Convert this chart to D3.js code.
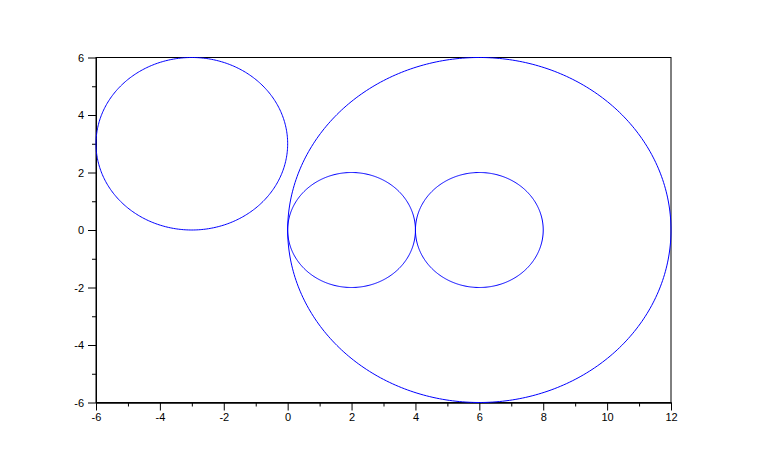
<!DOCTYPE html>
<html>
<head>
<meta charset="utf-8">
<script src="https://cdn.jsdelivr.net/npm/d3@7"></script>
<style>
  body { margin: 0; background: #fff; }
  text { font-family: "Liberation Sans", Arial, sans-serif; font-size: 11px; }
</style>
</head>
<body>
<div id="chart"></div>
<script>
// circles drawn on the plot: center x, center y, radius
var centerX = [-3, 6, 2, 6];
var centerY = [3, 0, 0, 0];
var radius = [3, 6, 2, 2];

var xTicks = [-6, -4, -2, 0, 2, 4, 6, 8, 10, 12];
var yTicks = [-6, -4, -2, 0, 2, 4, 6];
var xMinor = [-5, -3, -1, 1, 3, 5, 7, 9, 11];
var yMinor = [-5, -3, -1, 1, 3, 5];

var svgWidth = 767;
var svgHeight = 460;

var margin = { top: 57.5, right: 96, bottom: 57.5, left: 96 };
var width = 671 - margin.left;
var height = 402.5 - margin.top;

var svg = d3.select("#chart")
  .append("svg")
  .attr("width", svgWidth)
  .attr("height", svgHeight);

var chartGroup = svg.append("g")
  .attr("transform", `translate(${margin.left}, ${margin.top})`);

var xScale = d3.scaleLinear().domain([-6, 12]).range([0, width]);
var yScale = d3.scaleLinear().domain([-6, 6]).range([height, 0]);

// plain hyphen for negatives, like the original
var fmt = d => String(d);

// box
chartGroup.append("rect")
  .attr("x", 0)
  .attr("y", 0)
  .attr("width", width)
  .attr("height", height)
  .attr("fill", "none")
  .attr("stroke", "#000")
  .attr("stroke-width", 1);

// axes
var bottomAxis = d3.axisBottom(xScale).tickValues(xTicks).tickSize(8).tickSizeOuter(0)
  .tickFormat(fmt);
var leftAxis = d3.axisLeft(yScale).tickValues(yTicks).tickSize(8).tickSizeOuter(0)
  .tickFormat(fmt);

var xAxis = chartGroup.append("g")
  .attr("transform", `translate(0, ${height})`)
  .call(bottomAxis);
var yAxis = chartGroup.append("g").call(leftAxis);

chartGroup.append("g")
  .attr("transform", `translate(0, ${height})`)
  .call(d3.axisBottom(xScale).tickValues(xMinor).tickSize(4).tickSizeOuter(0).tickFormat(""));
chartGroup.append("g")
  .call(d3.axisLeft(yScale).tickValues(yMinor).tickSize(4).tickSizeOuter(0).tickFormat(""));

chartGroup.selectAll(".domain").attr("stroke", "#000");
chartGroup.selectAll(".tick line").attr("stroke", "#000");
chartGroup.selectAll(".tick text")
  .attr("fill", "#000")
  .style("font-size", "11px")
  .style("font-family", "'Liberation Sans', Arial, sans-serif");
xAxis.selectAll(".tick text").attr("dy", "0.71em").attr("y", 11);
yAxis.selectAll(".tick text").attr("x", -12);

// circles as polylines of points
var line = d3.line()
  .x(d => xScale(d[0]))
  .y(d => yScale(d[1]));

var circleData = centerX.map(function(cx, i) {
  var pts = [];
  for (var k = 0; k <= 360; k++) {
    var t = k * Math.PI / 180;
    pts.push([cx + radius[i] * Math.cos(t), centerY[i] + radius[i] * Math.sin(t)]);
  }
  return pts;
});

chartGroup.selectAll("path.circle")
  .data(circleData)
  .enter()
  .append("path")
  .attr("class", "circle")
  .attr("d", line)
  .attr("fill", "none")
  .attr("stroke", "#0000ff")
  .attr("stroke-width", 1);
</script>
</body>
</html>
